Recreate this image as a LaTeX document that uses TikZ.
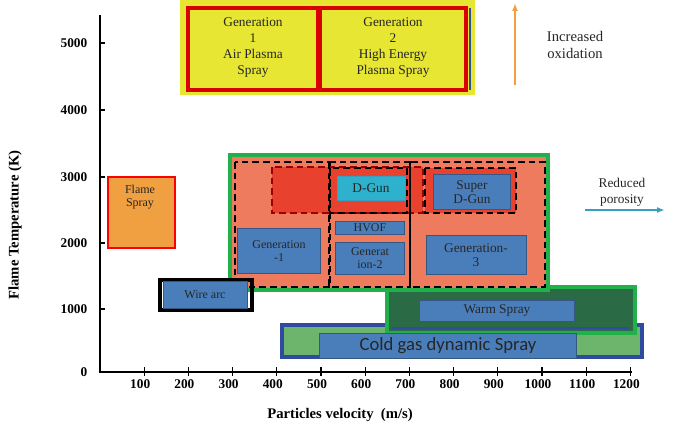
\documentclass[tikz,border=0pt]{standalone}
\usepackage{fontspec}
\usetikzlibrary{arrows.meta}
\setmainfont{Liberation Serif}
\newfontfamily\calib{Carlito}
\definecolor{bx}{HTML}{4A7EBB}
\definecolor{salm}{HTML}{EE7B5E}
\definecolor{redd}{HTML}{E8412E}
\definecolor{grn}{HTML}{22B04B}
\definecolor{dgrn}{HTML}{2A6B45}
\definecolor{lgrn}{HTML}{6DB56D}
\definecolor{yel}{HTML}{E6E633}
\definecolor{navy}{HTML}{2E4BA0}
\definecolor{org}{HTML}{F0A040}
\definecolor{teal}{HTML}{3A9EC0}
\begin{document}
\begin{tikzpicture}[x=0.75pt,y=-0.75pt,
  bluebox/.style={fill=bx,draw=bx!70!black,line width=0.6pt},
  dashbox/.style={draw=black,dashed,line width=1.4pt,dash pattern=on 5pt off 3pt},
  lbl/.style={font=\fontsize{9}{10}\selectfont,align=center,text=black!85},
  tick/.style={font=\fontsize{10}{11}\selectfont\bfseries}]
\useasboundingbox (0,0) rectangle (685,431);
% top generation boxes
\fill[yel] (180,0) rectangle (475,95);
\draw[navy,line width=1.5pt] (470,8) -- (470,90);
\draw[red!85!black,line width=2.5pt] (188,8) rectangle (318,90);
\draw[red!85!black,line width=2.5pt] (320,8) rectangle (466,90);
\node[lbl,font=\fontsize{10}{12}\selectfont] (g1) at (253,48) {Generation\\1\\Air Plasma\\Spray};
\node[lbl,font=\fontsize{10}{12}\selectfont] (g2) at (393,48) {Generation\\2\\High Energy\\Plasma Spray};
% arrows
\coordinate (oa) at (515,85); \coordinate (ob) at (515,3);
\draw[org,line width=1.5pt,-{Latex[length=6pt]}] (oa) -- (ob);
\node[lbl,font=\fontsize{11}{13}\selectfont] (ox) at (575,45) {Increased\\oxidation};
\coordinate (ta) at (585,210); \coordinate (tb) at (665,210);
\draw[teal,line width=1.5pt,-{Latex[length=6pt]}] (ta) -- (tb);
\node[lbl,font=\fontsize{10}{12}\selectfont] (rp) at (622,192) {Reduced\\porosity};
% flame spray
\draw[fill=org,draw=red,line width=1pt] (108,177) rectangle (175,248);
\node[lbl] (fs) at (140,197) {Flame\\Spray};
% cold gas
\draw[fill=lgrn,draw=navy,line width=2.5pt] (282,325) rectangle (642,357);
% warm spray
\draw[fill=dgrn,draw=grn,line width=2.5pt] (387,287) rectangle (635,333);
\draw[navy,line width=1.5pt] (392,328) -- (630,328);
\node[bluebox,minimum width=116pt,minimum height=14pt,lbl,font=\fontsize{10}{11}\selectfont] (ws) at (497,311) {Warm Spray};
\node[bluebox,minimum width=193pt,minimum height=18pt,lbl,font=\calib\fontsize{14}{15}\selectfont] (cg) at (448,346) {Cold gas dynamic Spray};
% big green box
\draw[fill=salm,draw=grn,line width=2.5pt] (230,155) rectangle (548,290);
\fill[redd] (272,167) rectangle (423,213);
\fill[redd] (425,168) rectangle (516,213);
\draw[dashbox,draw=red!60!black,line width=1pt] (272,167) rectangle (423,213);
\draw[dashbox,line width=1pt] (425,168) rectangle (516,213);
\draw[dashbox] (235,162) rectangle (330,287);
\draw[dashbox] (329,162) rectangle (410,287);
\draw[dashbox] (410,162) rectangle (545,287);
\draw[dashbox,line width=1pt] (330,168) rectangle (407,213);
\node[fill=teal!80!cyan,draw=teal,minimum width=51pt,minimum height=18pt,lbl,font=\fontsize{10}{11}\selectfont] (dg) at (371,188) {D-Gun};
\node[bluebox,minimum width=58pt,minimum height=26pt,lbl,font=\fontsize{10}{11}\selectfont] (sdg) at (472,192) {Super\\D-Gun};
\node[bluebox,minimum width=52pt,minimum height=10pt,inner sep=0pt,lbl] (hv) at (370,228) {HVOF};
\node[bluebox,minimum width=52pt,minimum height=24pt,inner sep=0pt,lbl] (g2b) at (370,258) {Generat\\ion-2};
\node[bluebox,minimum width=62pt,minimum height=34pt,inner sep=0pt,lbl] (g1b) at (279,251) {Generation\\-1};
\node[bluebox,minimum width=75pt,minimum height=29pt,inner sep=0pt,lbl,font=\fontsize{10}{11}\selectfont] (g3b) at (476,255) {Generation-\\3};
% wire arc
\draw[black,line width=2.5pt] (160,280) rectangle (252,310);
\node[bluebox,minimum width=63pt,minimum height=20pt,lbl] (wa) at (205,295) {Wire arc};
% axes
\draw[line width=1.3pt] (100,15) -- (100,372) -- (632,372);
\foreach \v/\yy in {5000/43,4000/110,3000/177,2000/243,1000/309,0/372}{
  \node[tick,anchor=east] (yl\v) at (92,\yy) {\v};
  \draw[line width=1pt] (100,\yy) -- (105,\yy);}
\foreach \k in {1,...,12}{
  \draw[line width=1pt] ({100+44.2*\k},367) -- ({100+44.2*\k},376);
  \pgfmathtruncatemacro\lab{100*\k}
  \node[tick] (xl\k) at ({100+44.2*\k-4},384) {\lab};}
\node[font=\fontsize{11}{12}\selectfont\bfseries] (xt) at (340,415) {Particles velocity\ \ (m/s)};
\node[font=\fontsize{11}{12}\selectfont\bfseries,rotate=90] (yt) at (15,225) {Flame Temperature (K)};
\end{tikzpicture}
\end{document}
